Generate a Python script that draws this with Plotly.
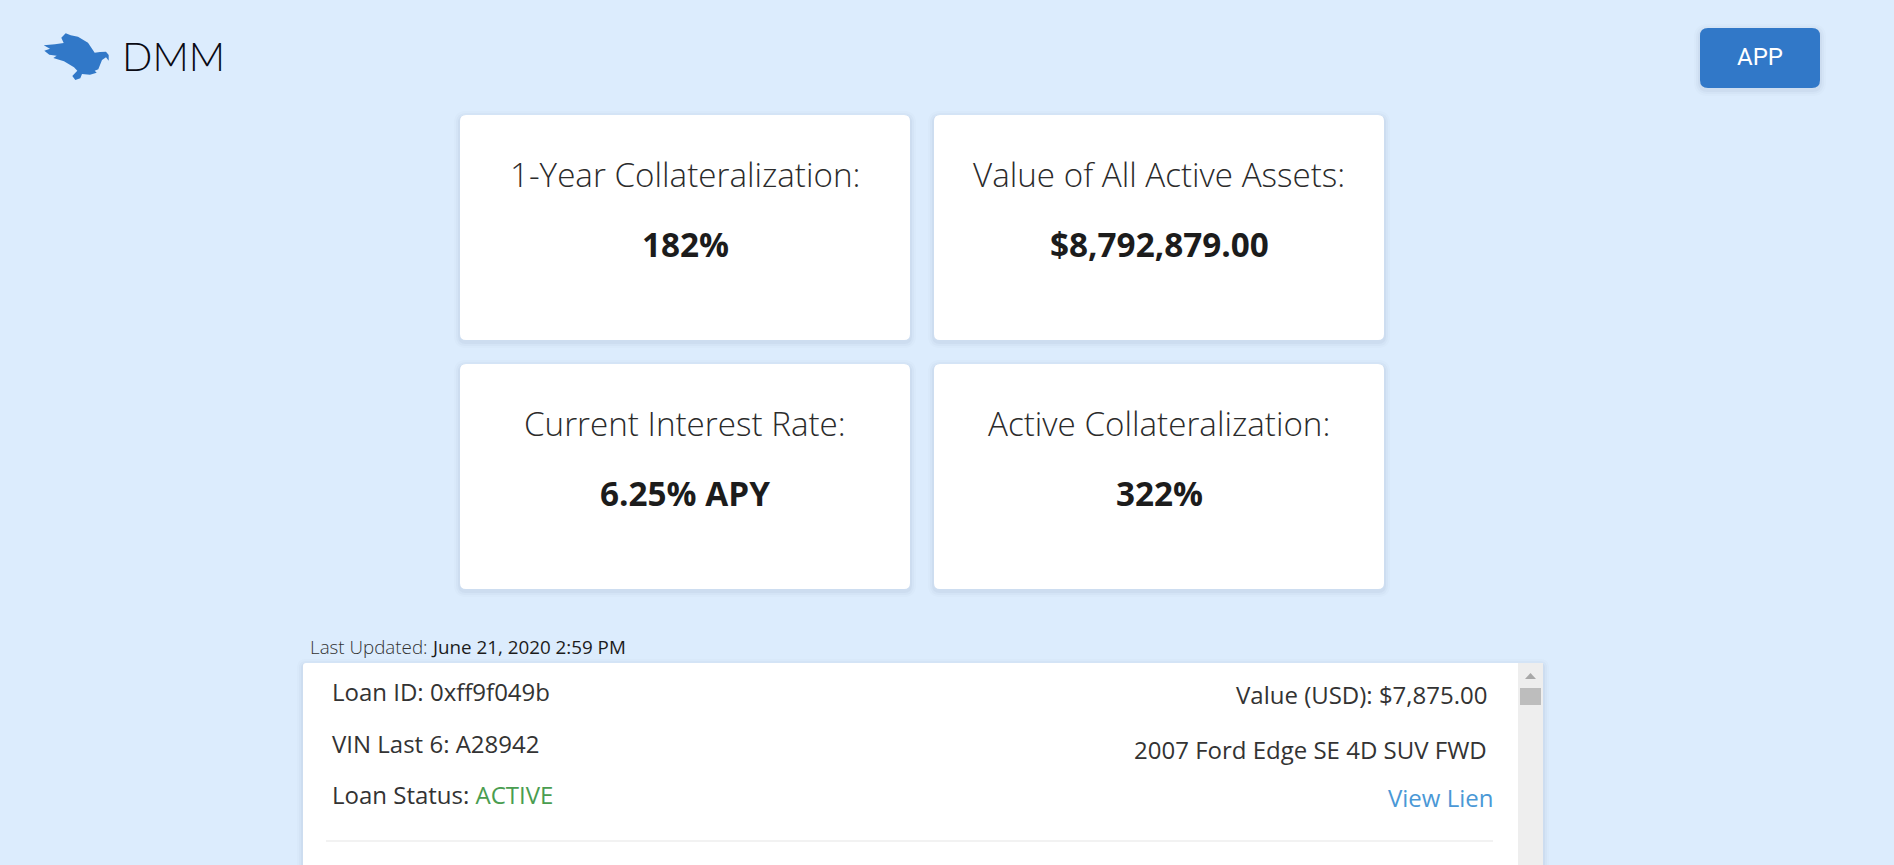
import plotly.graph_objects as go

W, H = 1894, 865

card_titles = ["1-Year Collateralization:", "Value of All Active Assets:",
               "Current Interest Rate:", "Active Collateralization:"]
card_values = ["182%", "$8,792,879.00", "6.25% APY", "322%"]
left_rows = ["Loan ID: 0xff9f049b", "VIN Last 6: A28942",
             "Loan Status: <span style='color:#4a9d50'>ACTIVE</span>"]
right_rows = ["Value (USD): $7,875.00", "2007 Ford Edge SE 4D SUV FWD"]
updated_label = "Last Updated:"
updated_date = "June 21, 2020 2:59 PM"

BG = "#dcecfd"
BLUE = "#3178c8"
INK = "#212121"
FONT = "Open Sans"

# logo outline (3x zoom coords)
bird = [(131, 136), (165, 133), (191, 129), (184, 113), (197, 100), (212, 106), (234, 110),
        (264, 128), (284, 158), (300, 156), (318, 155), (326, 165), (326, 182), (318, 172),
        (306, 180), (295, 208), (284, 212), (290, 218), (270, 224), (246, 222), (241, 235),
        (226, 240), (217, 228), (232, 212), (222, 202), (192, 184), (160, 174), (170, 167),
        (148, 164), (133, 152), (150, 146)]


def rrect(x0, y0, x1, y1, r):
    return (f"M{x0+r},{y0} L{x1-r},{y0} Q{x1},{y0} {x1},{y0+r} L{x1},{y1-r} Q{x1},{y1} {x1-r},{y1} "
            f"L{x0+r},{y1} Q{x0},{y1} {x0},{y1-r} L{x0},{y0+r} Q{x0},{y0} {x0+r},{y0} Z")


shapes = []


def box(x0, y0, x1, y1, r, color, shadow=True):
    if shadow:
        for grow, alpha in [(6, 0.015), (4, 0.025), (2, 0.035)]:
            shapes.append(dict(type="path", path=rrect(x0-grow, y0-grow+2, x1+grow, y1+grow+2, r+grow),
                               fillcolor=f"rgba(40,60,90,{alpha})", line_width=0, layer="below"))
    shapes.append(dict(type="path", path=rrect(x0, y0, x1, y1, r), fillcolor=color, line_width=0, layer="below"))


def label(text, x, y, size, color=INK, anchor="center", weight=400, family=FONT):
    return dict(text=text, x=x, y=y, xref="x", yref="y", xanchor=anchor, yanchor="middle", showarrow=False,
                font=dict(size=size, color=color, family=family, weight=weight))


annotations = []

# four stat cards
card_x = [(460, 910), (934, 1384)]
card_y = [(115, 340), (364, 589)]
for i, (title, value) in enumerate(zip(card_titles, card_values)):
    x0, x1 = card_x[i % 2]
    y0, y1 = card_y[i // 2]
    box(x0, y0, x1, y1, 6, "#ffffff")
    annotations.append(label(title, (x0+x1)/2, y0+59, 33.2, "#2b2b2b", weight=300))
    annotations.append(label(value, (x0+x1)/2, y0+129, 33.3, "#1c1c1c", weight=700))

# loan panel, runs off the bottom of the window
box(303, 663, 1543, 900, 3, "#ffffff")
shapes.append(dict(type="rect", x0=1518, x1=1543, y0=663, y1=900, fillcolor="#eeeeee", line_width=0))
shapes.append(dict(type="rect", x0=1520, x1=1541, y0=688, y1=705, fillcolor="#bdbdbd", line_width=0))
shapes.append(dict(type="path", path="M1525,679 L1536,679 L1530.5,673 Z", fillcolor="#a8a8a8", line_width=0))
shapes.append(dict(type="line", x0=326, x1=1493, y0=841, y1=841, line=dict(color="#eeeeee", width=1.5)))

annotations.append(label(updated_label, 308, 647, 18.8, "#333333", "left", 300))
annotations.append(label(updated_date, 429, 647, 18.8, "#1c1c1c", "left"))
for text, y in zip(left_rows, [691.5, 743.5, 794.5]):
    annotations.append(label(text, 330, y, 24, "#333333", "left"))
for text, y in zip(right_rows, [694.5, 749.5]):
    annotations.append(label(text, 1489, y, 24, "#333333", "right"))
annotations.append(label("View Lien", 1494.5, 797, 24, "#4a98d6", "right"))

# header
box(1700, 28, 1820, 88, 8, BLUE)
annotations.append(label("APP", 1760, 57, 24, "#ffffff", family="Roboto"))
annotations.append(label("DMM", 120, 56, 40, "#0a0a14", "left", 300, "Lato"))
shapes.append(dict(type="path", fillcolor=BLUE, line_width=0,
                   path="M" + " L".join(f"{px/3:.1f},{py/3:.1f}" for px, py in bird) + " Z"))

fig = go.Figure()
fig.update_layout(
    width=W, height=H, margin=dict(l=0, r=0, t=0, b=0),
    paper_bgcolor=BG, plot_bgcolor=BG, showlegend=False,
    xaxis=dict(range=[0, W], visible=False, fixedrange=True),
    yaxis=dict(range=[H, 0], visible=False, fixedrange=True),
    shapes=shapes, annotations=annotations,
)
# the default page body has an 8px margin, drop it so the figure fills the window
fig.write_html("out.html", config=dict(displayModeBar=False),
               post_script=f"document.body.style.margin='0';document.body.style.background='{BG}';"
                           "document.body.style.overflow='hidden';")
